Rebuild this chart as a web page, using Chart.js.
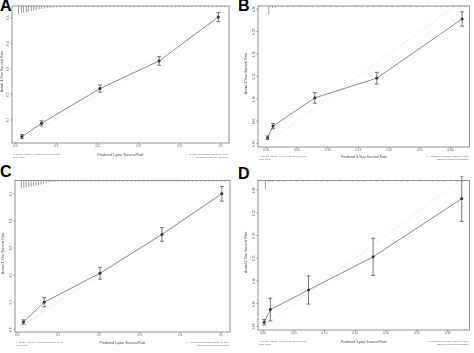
<!DOCTYPE html>
<html>
<head>
<meta charset="utf-8">
<script src="https://cdn.jsdelivr.net/npm/chart.js@4.4.0/dist/chart.umd.min.js"></script>
<style>
  body { margin: 0; background: #fff; width: 474px; height: 353px; position: relative; overflow: hidden; }
  canvas { position: absolute; }
  .tag { position: absolute; font: bold 16px "Liberation Sans", Arial, sans-serif; color: #000; }
</style>
</head>
<body>
<div class="tag" style="left:0px;top:-3px">A</div>
<div class="tag" style="left:238px;top:-3px">B</div>
<div class="tag" style="left:0px;top:163px">C</div>
<div class="tag" style="left:238px;top:165px">D</div>
<canvas id="chartA" width="237" height="176" style="left:0;top:0"></canvas>
<canvas id="chartB" width="237" height="176" style="left:237px;top:0"></canvas>
<canvas id="chartC" width="237" height="177" style="left:0;top:176px"></canvas>
<canvas id="chartD" width="237" height="177" style="left:237px;top:176px"></canvas>
<script>
// panel A: 1-year, training
var predA = [0.016, 0.064, 0.206, 0.350, 0.494];
var obsA  = [0.035, 0.087, 0.223, 0.331, 0.503];
var errA  = [0.008, 0.010, 0.014, 0.017, 0.018];
// panel B: 3-year, training
var predB = [0.002, 0.011, 0.079, 0.180, 0.319];
var obsB  = [0.013, 0.039, 0.102, 0.146, 0.278];
var errB  = [0.004, 0.006, 0.012, 0.013, 0.016];
// panel C: 1-year, validation
var predC = [0.015, 0.066, 0.203, 0.355, 0.502];
var obsC  = [0.027, 0.100, 0.207, 0.350, 0.500];
var errC  = [0.008, 0.017, 0.022, 0.025, 0.027];
// panel D: 3-year, validation
var predD = [0.002, 0.012, 0.074, 0.179, 0.323];
var obsD  = [0.009, 0.037, 0.080, 0.153, 0.281];
var errD  = [0.006, 0.025, 0.031, 0.041, 0.050];

// tick values
var ticksOneYear = [0.0, 0.1, 0.2, 0.3, 0.4, 0.5];
var ticksOneYearYA = [0.1, 0.2, 0.3, 0.4, 0.5];
var ticksThreeYear = [0.00, 0.05, 0.10, 0.15, 0.20, 0.25, 0.30];

// rug of predicted values along the top (x, relative count)
var rugA = [[0.008, 8], [0.015, 7], [0.020, 6.5], [0.027, 6], [0.032, 5.5], [0.039, 5], [0.045, 4.5], [0.051, 4], [0.058, 3.5], [0.064, 3], [0.071, 2.5], [0.078, 2], [0.085, 2], [0.092, 1.5], [0.100, 1.5], [0.110, 1], [0.120, 1], [0.130, 1], [0.140, 1], [0.150, 1], [0.160, 1], [0.170, 1], [0.180, 1], [0.190, 1], [0.200, 1], [0.210, 1], [0.220, 1], [0.230, 1], [0.240, 1], [0.250, 1], [0.260, 1], [0.270, 1], [0.280, 1], [0.290, 1], [0.300, 1], [0.310, 1], [0.320, 1], [0.330, 1], [0.340, 1], [0.350, 1], [0.360, 1], [0.370, 1], [0.380, 1], [0.390, 1], [0.400, 1], [0.410, 1], [0.420, 1], [0.430, 1], [0.440, 1], [0.450, 1], [0.460, 1], [0.470, 1], [0.480, 1], [0.490, 1], [0.500, 1], [0.510, 1]];
var rugB = [[0.004, 8], [0.010, 2], [0.015, 1.5], [0.025, 1], [0.035, 1], [0.045, 1], [0.055, 1], [0.065, 1], [0.075, 1], [0.085, 1], [0.095, 1], [0.105, 1], [0.115, 1], [0.125, 1], [0.135, 1], [0.145, 1], [0.155, 1], [0.165, 1], [0.175, 1], [0.185, 1], [0.195, 1], [0.205, 1], [0.215, 1], [0.225, 1], [0.235, 1], [0.245, 1], [0.255, 1], [0.265, 1], [0.275, 1], [0.285, 1], [0.295, 1], [0.305, 1], [0.315, 1], [0.325, 1]];
var rugC = [[0.010, 8], [0.016, 7.5], [0.022, 7], [0.028, 6.5], [0.034, 6], [0.040, 5.5], [0.046, 5], [0.052, 4.5], [0.058, 4], [0.064, 3], [0.071, 2.5], [0.078, 2], [0.085, 1.5], [0.092, 1.5], [0.100, 1], [0.110, 1], [0.120, 1], [0.130, 1], [0.140, 1], [0.150, 1], [0.160, 1], [0.170, 1], [0.180, 1], [0.190, 1], [0.200, 1], [0.210, 1], [0.220, 1], [0.230, 1], [0.240, 1], [0.250, 1], [0.260, 1], [0.270, 1], [0.280, 1], [0.290, 1], [0.300, 1], [0.310, 1], [0.320, 1], [0.330, 1], [0.340, 1], [0.350, 1], [0.360, 1], [0.370, 1], [0.380, 1], [0.390, 1], [0.400, 1], [0.410, 1], [0.420, 1], [0.430, 1], [0.440, 1], [0.450, 1], [0.460, 1], [0.470, 1], [0.480, 1], [0.490, 1], [0.500, 1], [0.510, 1]];
var rugD = [[0.004, 9], [0.010, 2], [0.015, 1.5], [0.025, 1], [0.035, 1], [0.045, 1], [0.055, 1], [0.065, 1], [0.075, 1], [0.085, 1], [0.095, 1], [0.105, 1], [0.115, 1], [0.125, 1], [0.135, 1], [0.145, 1], [0.155, 1], [0.165, 1], [0.175, 1], [0.185, 1], [0.195, 1], [0.205, 1], [0.215, 1], [0.225, 1], [0.235, 1], [0.245, 1], [0.255, 1], [0.265, 1], [0.275, 1], [0.285, 1], [0.295, 1], [0.305, 1], [0.315, 1], [0.325, 1]];

var footLeft = ['n=1562 d=1562 p=3, 150 subjects per group', 'Gray: ideal'];
var footRight = ['X - resampling optimism added, B=1000', 'Based on observed-predicted'];

document.addEventListener('DOMContentLoaded', function() {

  var FONT = '"Liberation Sans", Arial, sans-serif';

  // draws the R-style frame, ticks, labels, rug, error bars and ideal line
  var calibPlugin = {
    id: 'calib',
    beforeDatasetsDraw: function(chart) {
      var o = chart.options.plugins.calib;
      var ctx = chart.ctx;
      var xs = chart.scales.x, ys = chart.scales.y;
      var a = chart.chartArea;
      ctx.save();
      ctx.beginPath();
      ctx.rect(a.left, a.top, a.right - a.left, a.bottom - a.top);
      ctx.clip();
      // ideal line, very faint
      ctx.strokeStyle = '#e4e4e4';
      ctx.lineWidth = 1;
      ctx.setLineDash([1.5, 1.5]);
      ctx.beginPath();
      ctx.moveTo(xs.getPixelForValue(0), ys.getPixelForValue(0));
      ctx.lineTo(xs.getPixelForValue(o.idealMax), ys.getPixelForValue(o.idealMax));
      ctx.stroke();
      ctx.restore();
    },
    afterDatasetsDraw: function(chart) {
      var o = chart.options.plugins.calib;
      var ctx = chart.ctx;
      var xs = chart.scales.x, ys = chart.scales.y;
      var a = chart.chartArea;
      ctx.save();

      // error bars
      ctx.strokeStyle = '#555';
      ctx.lineWidth = 0.8;
      o.pred.forEach(function(p, i) {
        var x = xs.getPixelForValue(p);
        var y1 = ys.getPixelForValue(o.obs[i] - o.err[i]);
        var y2 = ys.getPixelForValue(o.obs[i] + o.err[i]);
        ctx.beginPath();
        ctx.moveTo(x, y1); ctx.lineTo(x, y2);
        ctx.moveTo(x - 2, y1); ctx.lineTo(x + 2, y1);
        ctx.moveTo(x - 2, y2); ctx.lineTo(x + 2, y2);
        ctx.stroke();
      });

      // rug along top
      ctx.strokeStyle = '#777';
      ctx.lineWidth = 0.7;
      o.rug.forEach(function(r) {
        var x = xs.getPixelForValue(r[0]);
        ctx.beginPath();
        ctx.moveTo(x, a.top);
        ctx.lineTo(x, a.top + r[1]);
        ctx.stroke();
      });

      // frame
      ctx.strokeStyle = '#777';
      ctx.lineWidth = 0.8;
      ctx.strokeRect(a.left, a.top, a.right - a.left, a.bottom - a.top);

      // x ticks
      ctx.fillStyle = '#555';
      ctx.font = '3px ' + FONT;
      ctx.textAlign = 'center';
      ctx.textBaseline = 'top';
      o.xTicks.forEach(function(t) {
        var x = xs.getPixelForValue(t);
        ctx.beginPath();
        ctx.moveTo(x, a.bottom); ctx.lineTo(x, a.bottom + 1.5);
        ctx.stroke();
        ctx.fillText(t.toFixed(o.dec), x, a.bottom + 2);
      });
      // y ticks, rotated labels
      o.yTicks.forEach(function(t) {
        var y = ys.getPixelForValue(t);
        ctx.beginPath();
        ctx.moveTo(a.left, y); ctx.lineTo(a.left - 1.5, y);
        ctx.stroke();
        ctx.save();
        ctx.translate(a.left - 2.5, y);
        ctx.rotate(-Math.PI / 2);
        ctx.textBaseline = 'bottom';
        ctx.fillText(t.toFixed(o.dec), 0, 0);
        ctx.restore();
      });

      // axis titles
      ctx.fillStyle = '#444';
      ctx.font = '3.4px ' + FONT;
      ctx.textBaseline = 'top';
      ctx.fillText(o.xTitle, (a.left + a.right) / 2, a.bottom + o.titleGap);
      ctx.save();
      ctx.translate(a.left - o.yTitleGap, (a.top + a.bottom) / 2 - 3);
      ctx.rotate(-Math.PI / 2);
      ctx.textBaseline = 'bottom';
      ctx.fillText(o.yTitle, 0, 0);
      ctx.restore();

      // footnotes
      ctx.fillStyle = '#666';
      ctx.font = '2.4px ' + FONT;
      ctx.textAlign = 'left';
      footLeft.forEach(function(s, i) {
        ctx.fillText(s, a.left + 1, a.bottom + o.titleGap + i * 3);
      });
      ctx.textAlign = 'right';
      footRight.forEach(function(s, i) {
        ctx.fillText(s, a.right - 1, a.bottom + o.titleGap + i * 3);
      });
      ctx.restore();
    }
  };

  function plotPanel(id, pred, obs, err, rug, cfg) {
    var ctx = document.getElementById(id).getContext('2d');
    var pts = pred.map(function(p, i) { return { x: p, y: obs[i] }; });
    return new Chart(ctx, {
      type: 'scatter',
      data: {
        datasets: [{
          data: pts,
          showLine: true,
          borderColor: '#8a8a8a',
          borderWidth: 1,
          pointRadius: 1.2,
          pointBackgroundColor: '#111',
          pointBorderColor: '#111',
          pointBorderWidth: 0.5
        }]
      },
      options: {
        responsive: false,
        animation: false,
        devicePixelRatio: 1,
        layout: { padding: cfg.pad },
        scales: {
          x: { type: 'linear', display: false, min: cfg.xMin, max: cfg.xMax },
          y: { type: 'linear', display: false, min: cfg.yMin, max: cfg.yMax }
        },
        plugins: {
          legend: { display: false },
          tooltip: { enabled: false },
          calib: {
            pred: pred, obs: obs, err: err, rug: rug,
            xTicks: cfg.xTicks, yTicks: cfg.yTicks, dec: cfg.dec,
            xTitle: cfg.xTitle, yTitle: cfg.yTitle,
            titleGap: cfg.titleGap, yTitleGap: cfg.yTitleGap,
            idealMax: cfg.xMax
          }
        }
      },
      plugins: [calibPlugin]
    });
  }

  plotPanel('chartA', predA, obsA, errA, rugA, {
    pad: { left: 12, top: 6, right: 8, bottom: 33 },
    xMin: -0.008, xMax: 0.52, yMin: 0.01, yMax: 0.546,
    xTicks: ticksOneYear, yTicks: ticksOneYearYA, dec: 1,
    xTitle: 'Predicted 1-year Survival Rate', yTitle: 'Actual 1-Year Survival Rate',
    titleGap: 10, yTitleGap: 8
  });
  plotPanel('chartB', predB, obsB, errB, rugB, {
    pad: { left: 21, top: 6, right: 4, bottom: 29 },
    xMin: -0.0135, xMax: 0.331, yMin: -0.0076, yMax: 0.307,
    xTicks: ticksThreeYear, yTicks: ticksThreeYear, dec: 2,
    xTitle: 'Predicted 3-Year Survival Rate', yTitle: 'Actual 3-Year Survival Rate',
    titleGap: 8.5, yTitleGap: 10
  });
  plotPanel('chartC', predC, obsC, errC, rugC, {
    pad: { left: 15, top: 3, right: 7, bottom: 21 },
    xMin: -0.0057, xMax: 0.522, yMin: -0.0099, yMax: 0.549,
    xTicks: ticksOneYear, yTicks: ticksOneYear, dec: 1,
    xTitle: 'Predicted 1-year Survival Rate', yTitle: 'Actual 1-Year Survival Rate',
    titleGap: 9, yTitleGap: 10
  });
  plotPanel('chartD', predD, obsD, errD, rugD, {
    pad: { left: 21, top: 3, right: 4, bottom: 23 },
    xMin: -0.0081, xMax: 0.3356, yMin: -0.008, yMax: 0.321,
    xTicks: ticksThreeYear, yTicks: ticksThreeYear, dec: 2,
    xTitle: 'Predicted 3-year Survival Rate', yTitle: 'Actual 3-Year Survival Rate',
    titleGap: 10, yTitleGap: 10
  });
});
</script>
</body>
</html>
